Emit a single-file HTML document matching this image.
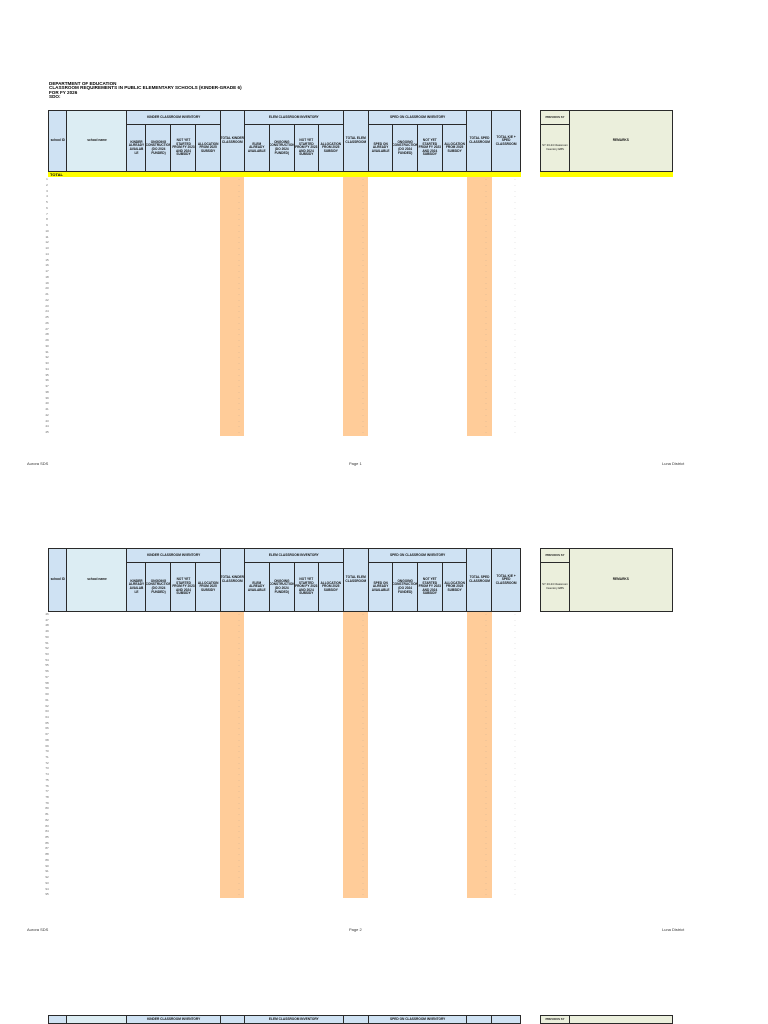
<!DOCTYPE html>
<html style="width:768px;height:1024px;overflow:hidden"><head><meta charset="utf-8"><style>
html,body{margin:0;width:768px;height:1024px;overflow:hidden}
body{background:#fff;position:relative;font-family:"Liberation Sans",sans-serif}
.c{position:absolute;border:1.2px solid #2a2a2a;box-sizing:border-box;display:flex;align-items:center;justify-content:center;text-align:center;font-weight:bold;font-size:3.2px;line-height:3.6px;color:#111;background:#cfe2f3;overflow:hidden}
.n{background:#dcedf3}
.g{background:#ebefdc}
.o{position:absolute;background:#ffcc99}
.y{position:absolute;background:#ffff00;height:5px}
.t{position:absolute;font-weight:bold;font-size:4.6px;line-height:4.4px;left:49px;top:82px}
.num{position:absolute;font-size:3px;line-height:5.75px;color:#666;text-align:center;width:8px}
.d{position:absolute;font-size:3px;line-height:5.75px;color:#888;width:6px;text-align:center}
.f{position:absolute;font-size:4px;color:#333}
#p3{position:absolute;left:0;top:1015px;width:768px;height:9px;overflow:hidden}
</style></head><body>
<div class="t">DEPARTMENT OF EDUCATION<br>CLASSROOM REQUIREMENTS IN PUBLIC ELEMENTARY SCHOOLS (KINDER-GRADE 6)<br>FOR FY 2026<br>SDO:</div>

<div class="c" style="left:48px;top:110px;width:19.5px;height:62px">school ID</div>
<div class="c n" style="left:66.3px;top:110px;width:61.4px;height:62px">school name</div>
<div class="c" style="left:126.3px;top:110px;width:94.7px;height:15px">KINDER CLASSROOM INVENTORY</div>
<div class="c" style="left:126.3px;top:124px;width:20.4px;height:48px">KINDER ALREADY AVAILAB LE</div>
<div class="c" style="left:145.3px;top:124px;width:26.4px;height:48px">ONGOING CONSTRUCTION (DO 2024 FUNDED)</div>
<div class="c" style="left:170.3px;top:124px;width:26.4px;height:48px">NOT YET STARTED FROM FY 2023 AND 2024 SUBSIDY</div>
<div class="c" style="left:195.3px;top:124px;width:25.7px;height:48px">ALLOCATION FROM 2025 SUBSIDY</div>
<div class="c" style="left:219.6px;top:110px;width:25.4px;height:62px">TOTAL KINDER CLASSROOM</div>
<div class="c" style="left:243.6px;top:110px;width:100.4px;height:15px">ELEM CLASSROOM INVENTORY</div>
<div class="c" style="left:243.6px;top:124px;width:26.4px;height:48px">ELEM ALREADY AVAILABLE</div>
<div class="c" style="left:268.6px;top:124px;width:26.4px;height:48px">ONGOING CONSTRUCTION (DO 2024 FUNDED)</div>
<div class="c" style="left:293.6px;top:124px;width:25.4px;height:48px">NOT YET STARTED FROM FY 2023 AND 2024 SUBSIDY</div>
<div class="c" style="left:317.6px;top:124px;width:26.4px;height:48px">ALLOCATION FROM 2025 SUBSIDY</div>
<div class="c" style="left:342.6px;top:110px;width:26.4px;height:62px">TOTAL ELEM CLASSROOM</div>
<div class="c" style="left:367.6px;top:110px;width:100.1px;height:15px">SPED ON CLASSROOM INVENTORY</div>
<div class="c" style="left:367.6px;top:124px;width:26.1px;height:48px">SPED ON ALREADY AVAILABLE</div>
<div class="c" style="left:392.3px;top:124px;width:25.7px;height:48px">ONGOING CONSTRUCTION (DO 2024 FUNDED)</div>
<div class="c" style="left:416.6px;top:124px;width:26.4px;height:48px">NOT YET STARTED FROM FY 2023 AND 2024 SUBSIDY</div>
<div class="c" style="left:441.6px;top:124px;width:26.1px;height:48px">ALLOCATION FROM 2025 SUBSIDY</div>
<div class="c" style="left:466.3px;top:110px;width:26.4px;height:62px">TOTAL SPED CLASSROOM</div>
<div class="c" style="left:491.3px;top:110px;width:29.7px;height:62px">TOTAL K/E + SPED CLASSROOM</div>
<div class="c g" style="left:540px;top:110px;width:30px;height:15px;font-size:2.8px">PREVIOUS SY</div>
<div class="c g" style="left:540px;top:124px;width:30px;height:48px;font-weight:normal;font-size:2.8px">SY 23-24 Classroom Inventory EBS</div>
<div class="c g" style="left:568.6px;top:110px;width:104.4px;height:62px">REMARKS</div>
<div class="y" style="left:48px;top:172px;width:473px"></div>
<div class="y" style="left:540px;top:172px;width:133px"></div>
<div style="position:absolute;left:50px;top:172px;font-size:4px;font-weight:bold;line-height:5px">TOTAL</div>
<div class="o" style="left:220px;top:177px;width:24px;height:259px"></div>
<div class="o" style="left:343px;top:177px;width:25px;height:259px"></div>
<div class="o" style="left:467px;top:177px;width:24.5px;height:259px"></div>

<div class="num" style="left:43px;top:177px">1<br>2<br>3<br>4<br>5<br>6<br>7<br>8<br>9<br>10<br>11<br>12<br>13<br>14<br>15<br>16<br>17<br>18<br>19<br>20<br>21<br>22<br>23<br>24<br>25<br>26<br>27<br>28<br>29<br>30<br>31<br>32<br>33<br>34<br>35<br>36<br>37<br>38<br>39<br>40<br>41<br>42<br>43<br>44<br>45</div>
<div class="d" style="left:236px;top:177px">-<br>-<br>-<br>-<br>-<br>-<br>-<br>-<br>-<br>-<br>-<br>-<br>-<br>-<br>-<br>-<br>-<br>-<br>-<br>-<br>-<br>-<br>-<br>-<br>-<br>-<br>-<br>-<br>-<br>-<br>-<br>-<br>-<br>-<br>-<br>-<br>-<br>-<br>-<br>-<br>-<br>-<br>-<br>-<br>-</div>
<div class="d" style="left:360px;top:177px">-<br>-<br>-<br>-<br>-<br>-<br>-<br>-<br>-<br>-<br>-<br>-<br>-<br>-<br>-<br>-<br>-<br>-<br>-<br>-<br>-<br>-<br>-<br>-<br>-<br>-<br>-<br>-<br>-<br>-<br>-<br>-<br>-<br>-<br>-<br>-<br>-<br>-<br>-<br>-<br>-<br>-<br>-<br>-<br>-</div>
<div class="d" style="left:483px;top:177px">-<br>-<br>-<br>-<br>-<br>-<br>-<br>-<br>-<br>-<br>-<br>-<br>-<br>-<br>-<br>-<br>-<br>-<br>-<br>-<br>-<br>-<br>-<br>-<br>-<br>-<br>-<br>-<br>-<br>-<br>-<br>-<br>-<br>-<br>-<br>-<br>-<br>-<br>-<br>-<br>-<br>-<br>-<br>-<br>-</div>
<div class="d" style="left:512px;top:177px">-<br>-<br>-<br>-<br>-<br>-<br>-<br>-<br>-<br>-<br>-<br>-<br>-<br>-<br>-<br>-<br>-<br>-<br>-<br>-<br>-<br>-<br>-<br>-<br>-<br>-<br>-<br>-<br>-<br>-<br>-<br>-<br>-<br>-<br>-<br>-<br>-<br>-<br>-<br>-<br>-<br>-<br>-<br>-<br>-</div>

<div class="f" style="left:27px;top:461px">Aurora SDS</div>
<div class="f" style="left:349px;top:461px">Page 1</div>
<div class="f" style="left:662px;top:461px">Luna District</div>

<div class="c" style="left:48px;top:548px;width:19.5px;height:64px">school ID</div>
<div class="c n" style="left:66.3px;top:548px;width:61.4px;height:64px">school name</div>
<div class="c" style="left:126.3px;top:548px;width:94.7px;height:15px">KINDER CLASSROOM INVENTORY</div>
<div class="c" style="left:126.3px;top:562px;width:20.4px;height:50px">KINDER ALREADY AVAILAB LE</div>
<div class="c" style="left:145.3px;top:562px;width:26.4px;height:50px">ONGOING CONSTRUCTION (DO 2024 FUNDED)</div>
<div class="c" style="left:170.3px;top:562px;width:26.4px;height:50px">NOT YET STARTED FROM FY 2023 AND 2024 SUBSIDY</div>
<div class="c" style="left:195.3px;top:562px;width:25.7px;height:50px">ALLOCATION FROM 2025 SUBSIDY</div>
<div class="c" style="left:219.6px;top:548px;width:25.4px;height:64px">TOTAL KINDER CLASSROOM</div>
<div class="c" style="left:243.6px;top:548px;width:100.4px;height:15px">ELEM CLASSROOM INVENTORY</div>
<div class="c" style="left:243.6px;top:562px;width:26.4px;height:50px">ELEM ALREADY AVAILABLE</div>
<div class="c" style="left:268.6px;top:562px;width:26.4px;height:50px">ONGOING CONSTRUCTION (DO 2024 FUNDED)</div>
<div class="c" style="left:293.6px;top:562px;width:25.4px;height:50px">NOT YET STARTED FROM FY 2023 AND 2024 SUBSIDY</div>
<div class="c" style="left:317.6px;top:562px;width:26.4px;height:50px">ALLOCATION FROM 2025 SUBSIDY</div>
<div class="c" style="left:342.6px;top:548px;width:26.4px;height:64px">TOTAL ELEM CLASSROOM</div>
<div class="c" style="left:367.6px;top:548px;width:100.1px;height:15px">SPED ON CLASSROOM INVENTORY</div>
<div class="c" style="left:367.6px;top:562px;width:26.1px;height:50px">SPED ON ALREADY AVAILABLE</div>
<div class="c" style="left:392.3px;top:562px;width:25.7px;height:50px">ONGOING CONSTRUCTION (DO 2024 FUNDED)</div>
<div class="c" style="left:416.6px;top:562px;width:26.4px;height:50px">NOT YET STARTED FROM FY 2023 AND 2024 SUBSIDY</div>
<div class="c" style="left:441.6px;top:562px;width:26.1px;height:50px">ALLOCATION FROM 2025 SUBSIDY</div>
<div class="c" style="left:466.3px;top:548px;width:26.4px;height:64px">TOTAL SPED CLASSROOM</div>
<div class="c" style="left:491.3px;top:548px;width:29.7px;height:64px">TOTAL K/E + SPED CLASSROOM</div>
<div class="c g" style="left:540px;top:548px;width:30px;height:15px;font-size:2.8px">PREVIOUS SY</div>
<div class="c g" style="left:540px;top:562px;width:30px;height:50px;font-weight:normal;font-size:2.8px">SY 23-24 Classroom Inventory EBS</div>
<div class="c g" style="left:568.6px;top:548px;width:104.4px;height:64px">REMARKS</div>
<div class="o" style="left:220px;top:612px;width:24px;height:286px"></div>
<div class="o" style="left:343px;top:612px;width:25px;height:286px"></div>
<div class="o" style="left:467px;top:612px;width:24.5px;height:286px"></div>

<div class="num" style="left:43px;top:612px;line-height:5.72px">46<br>47<br>48<br>49<br>50<br>51<br>52<br>53<br>54<br>55<br>56<br>57<br>58<br>59<br>60<br>61<br>62<br>63<br>64<br>65<br>66<br>67<br>68<br>69<br>70<br>71<br>72<br>73<br>74<br>75<br>76<br>77<br>78<br>79<br>80<br>81<br>82<br>83<br>84<br>85<br>86<br>87<br>88<br>89<br>90<br>91<br>92<br>93<br>94<br>95</div>
<div class="d" style="left:236px;top:612px;line-height:5.72px">-<br>-<br>-<br>-<br>-<br>-<br>-<br>-<br>-<br>-<br>-<br>-<br>-<br>-<br>-<br>-<br>-<br>-<br>-<br>-<br>-<br>-<br>-<br>-<br>-<br>-<br>-<br>-<br>-<br>-<br>-<br>-<br>-<br>-<br>-<br>-<br>-<br>-<br>-<br>-<br>-<br>-<br>-<br>-<br>-<br>-<br>-<br>-<br>-<br>-</div>
<div class="d" style="left:360px;top:612px;line-height:5.72px">-<br>-<br>-<br>-<br>-<br>-<br>-<br>-<br>-<br>-<br>-<br>-<br>-<br>-<br>-<br>-<br>-<br>-<br>-<br>-<br>-<br>-<br>-<br>-<br>-<br>-<br>-<br>-<br>-<br>-<br>-<br>-<br>-<br>-<br>-<br>-<br>-<br>-<br>-<br>-<br>-<br>-<br>-<br>-<br>-<br>-<br>-<br>-<br>-<br>-</div>
<div class="d" style="left:483px;top:612px;line-height:5.72px">-<br>-<br>-<br>-<br>-<br>-<br>-<br>-<br>-<br>-<br>-<br>-<br>-<br>-<br>-<br>-<br>-<br>-<br>-<br>-<br>-<br>-<br>-<br>-<br>-<br>-<br>-<br>-<br>-<br>-<br>-<br>-<br>-<br>-<br>-<br>-<br>-<br>-<br>-<br>-<br>-<br>-<br>-<br>-<br>-<br>-<br>-<br>-<br>-<br>-</div>
<div class="d" style="left:512px;top:612px;line-height:5.72px">-<br>-<br>-<br>-<br>-<br>-<br>-<br>-<br>-<br>-<br>-<br>-<br>-<br>-<br>-<br>-<br>-<br>-<br>-<br>-<br>-<br>-<br>-<br>-<br>-<br>-<br>-<br>-<br>-<br>-<br>-<br>-<br>-<br>-<br>-<br>-<br>-<br>-<br>-<br>-<br>-<br>-<br>-<br>-<br>-<br>-<br>-<br>-<br>-<br>-</div>

<div class="f" style="left:27px;top:927px">Aurora SDS</div>
<div class="f" style="left:349px;top:927px">Page 2</div>
<div class="f" style="left:662px;top:927px">Luna District</div>

<div id="p3">
<div class="c" style="left:48px;top:0;width:19.5px;height:9px"></div>
<div class="c n" style="left:66.3px;top:0;width:61.4px;height:9px"></div>
<div class="c" style="left:126.3px;top:0;width:94.7px;height:9px;align-items:flex-start;padding-top:2px">KINDER CLASSROOM INVENTORY</div>
<div class="c" style="left:219.6px;top:0;width:25.4px;height:9px"></div>
<div class="c" style="left:243.6px;top:0;width:100.4px;height:9px;align-items:flex-start;padding-top:2px">ELEM CLASSROOM INVENTORY</div>
<div class="c" style="left:342.6px;top:0;width:26.4px;height:9px"></div>
<div class="c" style="left:367.6px;top:0;width:100.1px;height:9px;align-items:flex-start;padding-top:2px">SPED ON CLASSROOM INVENTORY</div>
<div class="c" style="left:466.3px;top:0;width:26.4px;height:9px"></div>
<div class="c" style="left:491.3px;top:0;width:29.7px;height:9px"></div>
<div class="c g" style="left:540px;top:0;width:30px;height:9px;font-size:2.8px;align-items:flex-start;padding-top:2px">PREVIOUS SY</div>
<div class="c g" style="left:568.6px;top:0;width:104.4px;height:9px"></div>
</div>
</body></html>
